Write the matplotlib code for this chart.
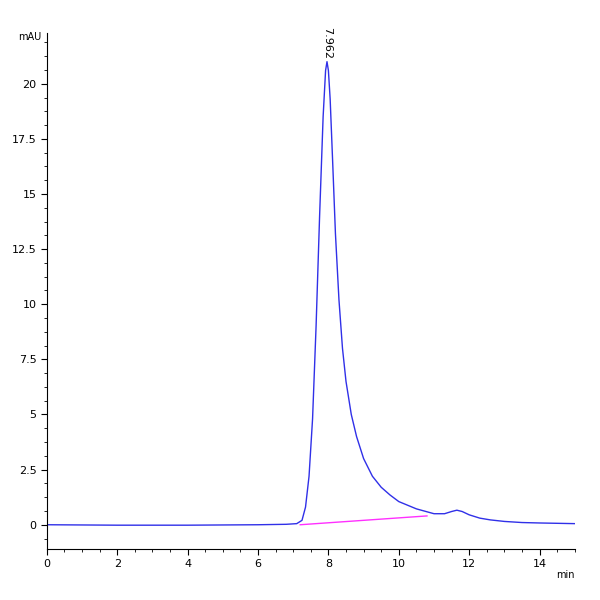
import matplotlib.pyplot as plt
from matplotlib.ticker import MultipleLocator

# chromatogram readings (min, mAU)
time_min = [0, 2, 4, 6, 6.8, 7.1, 7.25, 7.35, 7.45, 7.55, 7.65, 7.75, 7.85, 7.92, 7.96,
            8.0, 8.05, 8.12, 8.2, 8.3, 8.4, 8.5, 8.65, 8.8, 9.0, 9.25, 9.5, 9.75, 10.0,
            10.5, 11.0, 11.3, 11.5, 11.65, 11.8, 12.0, 12.3, 12.6, 13.0, 13.5, 14.0, 15.0]
signal = [0.0, -0.02, -0.02, 0.0, 0.02, 0.05, 0.2, 0.8, 2.2, 4.8, 9.0, 14.0, 18.5, 20.6, 21.0,
          20.6, 19.3, 16.5, 13.2, 10.2, 8.0, 6.5, 5.0, 4.0, 3.0, 2.2, 1.7, 1.35, 1.05,
          0.72, 0.5, 0.5, 0.6, 0.66, 0.6, 0.45, 0.3, 0.22, 0.15, 0.1, 0.08, 0.05]
base_t = [7.2, 10.8]
base_y = [0.0, 0.4]
peak_rt = 7.962
peak_h = 21.0

fig = plt.figure(figsize=(6, 6), dpi=100)
ax = fig.add_axes([0.078, 0.085, 0.88, 0.86])
ax.plot(time_min, signal, color='#3030e8', linewidth=1)
ax.plot(base_t, base_y, color='#ff30ff', linewidth=1)
ax.text(peak_rt, peak_h + 0.1, f'{peak_rt:.3f}', rotation=-90, ha='center', va='bottom', fontsize=8)

ax.set_xlim(0, 15)
ax.set_ylim(-1.1, 22.3)
ax.xaxis.set_major_locator(MultipleLocator(2))
ax.xaxis.set_minor_locator(MultipleLocator(0.5))
ax.yaxis.set_major_locator(MultipleLocator(2.5))
ax.yaxis.set_minor_locator(MultipleLocator(0.625))
ax.set_yticks([0, 2.5, 5, 7.5, 10, 12.5, 15, 17.5, 20])
ax.set_yticklabels(['0', '2.5', '5', '7.5', '10', '12.5', '15', '17.5', '20'])
for s in ['top', 'right']:
    ax.spines[s].set_visible(False)
ax.tick_params(labelsize=8, length=4)
ax.tick_params(which='minor', length=2)
ax.text(-0.01, 22.1, 'mAU', transform=ax.get_yaxis_transform(), ha='right', va='center', fontsize=7)
ax.text(1.0, -0.05, 'min', transform=ax.transAxes, ha='right', va='center', fontsize=7)

plt.savefig('out.png')
